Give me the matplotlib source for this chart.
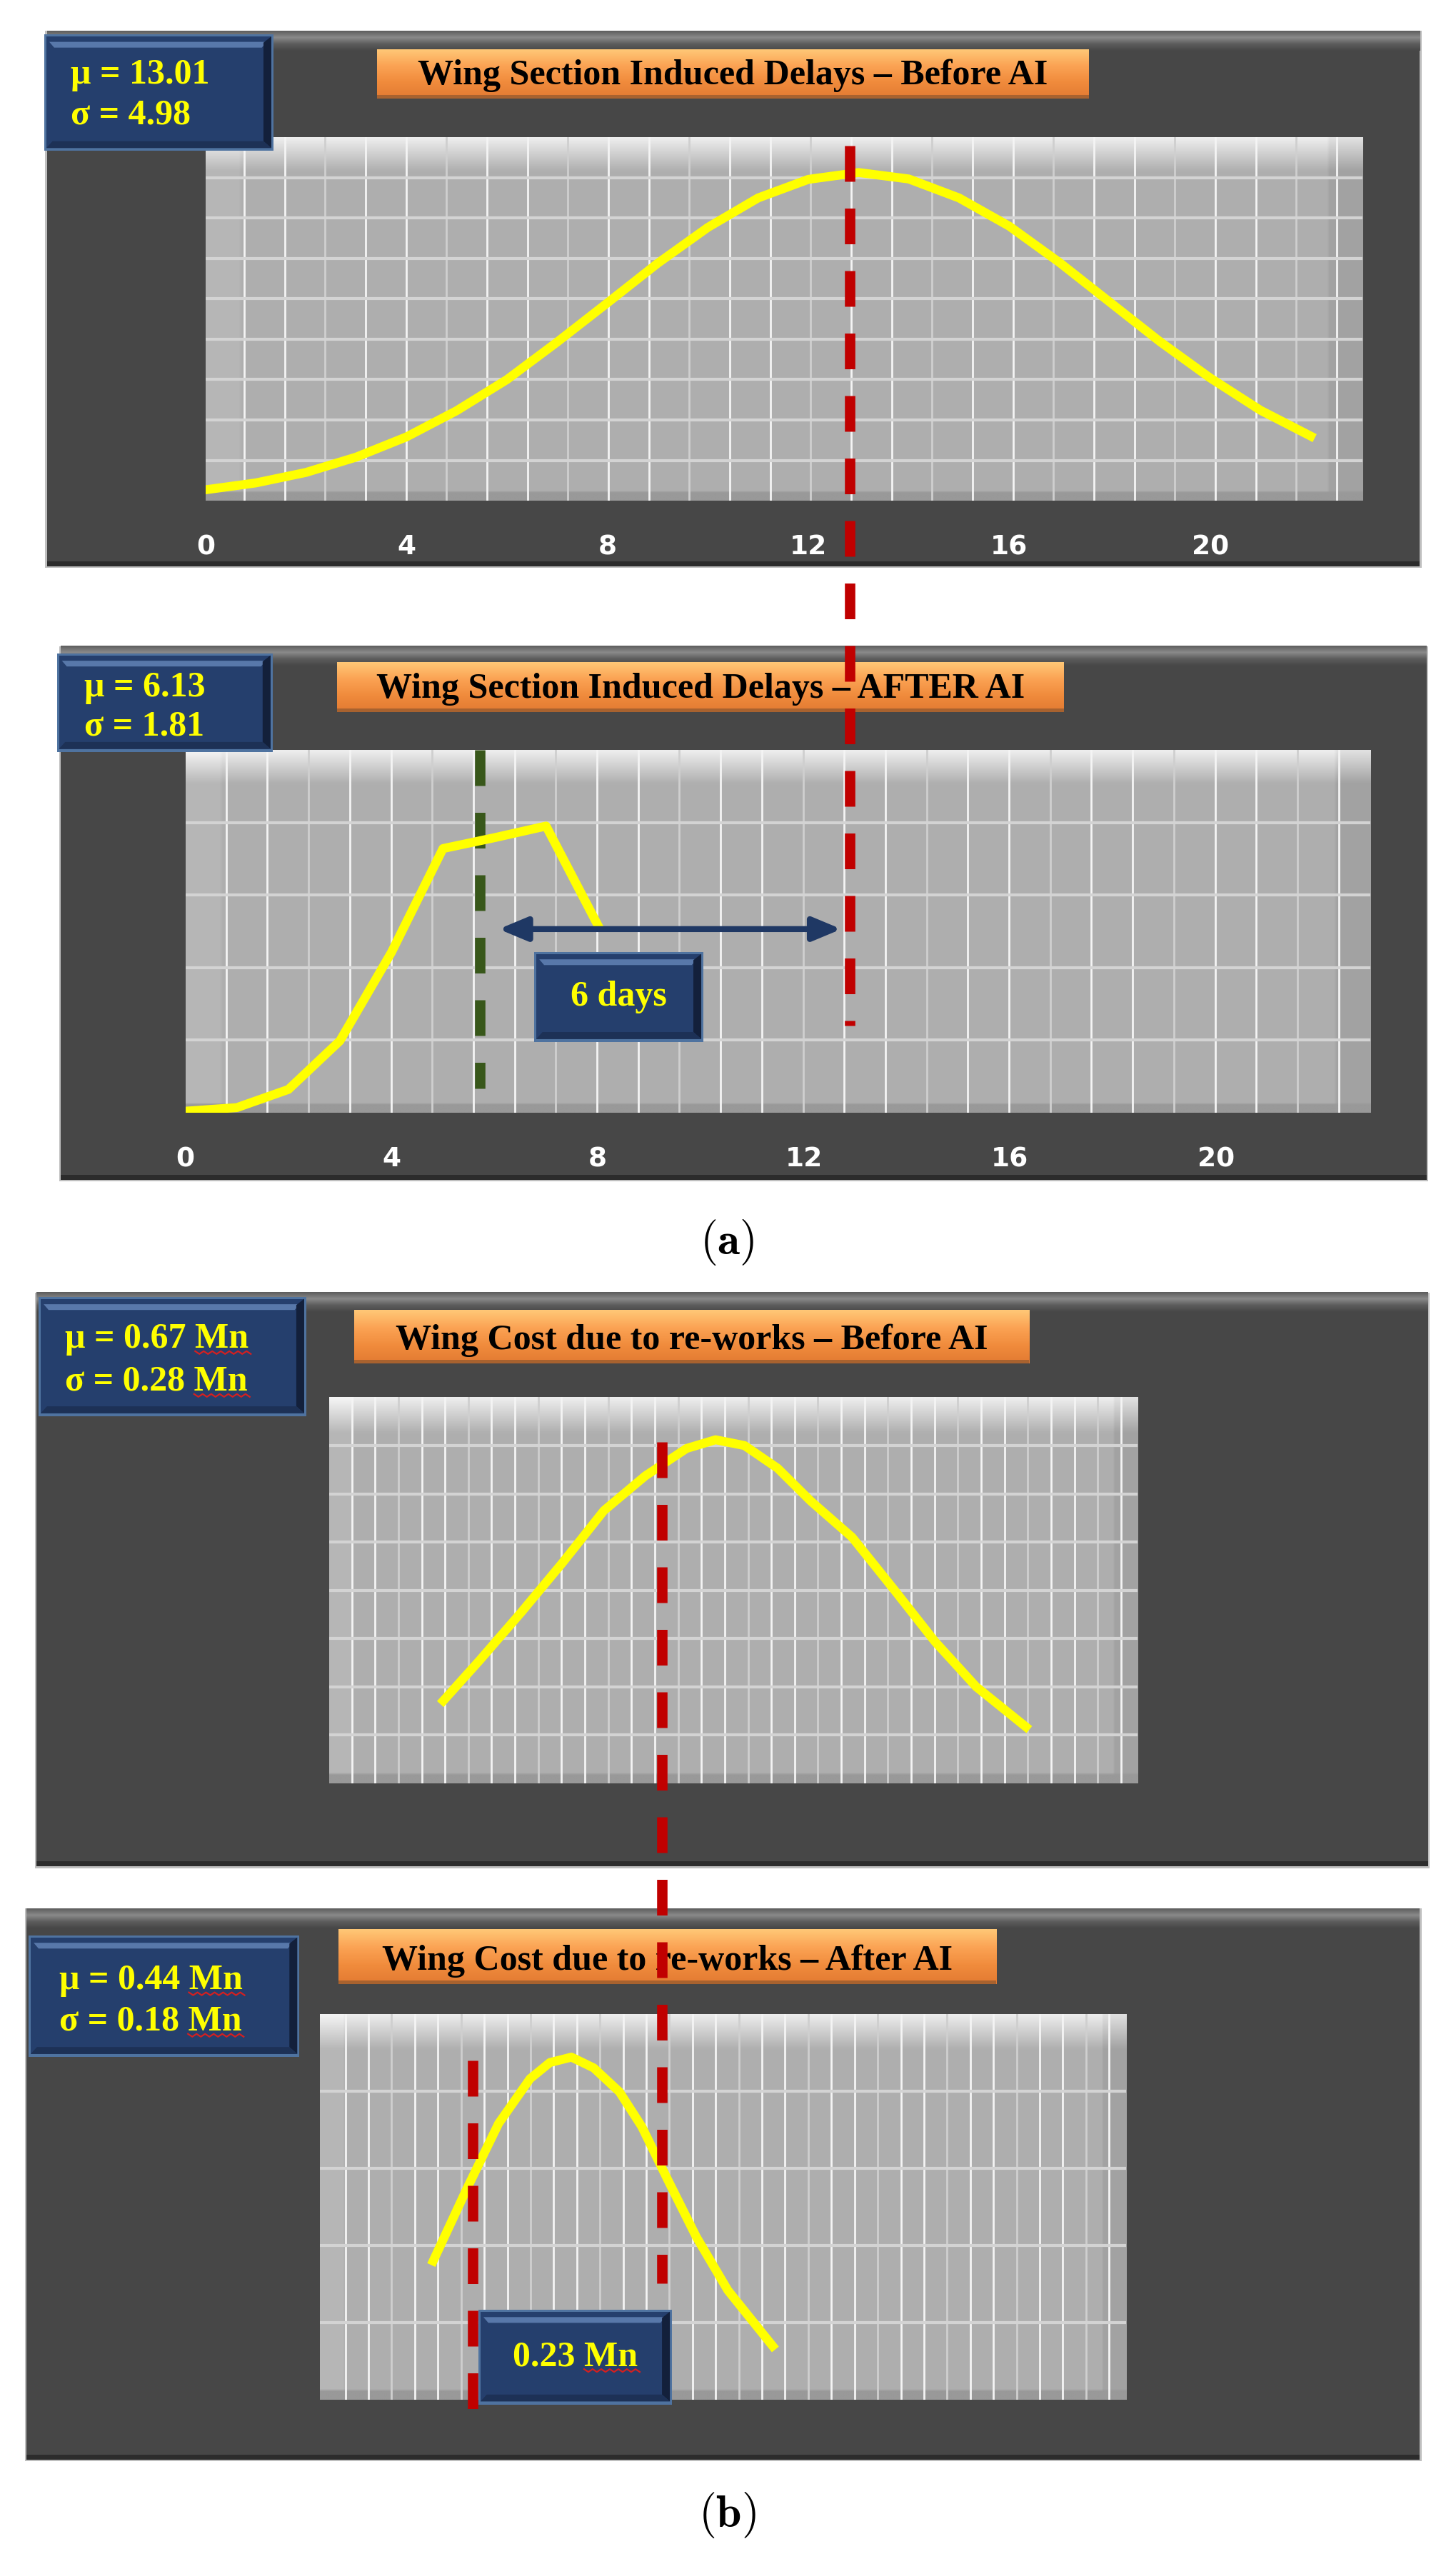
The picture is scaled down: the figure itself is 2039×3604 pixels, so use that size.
import numpy as np
import matplotlib
matplotlib.use("Agg")
import matplotlib.pyplot as plt
from matplotlib.patches import Rectangle, Polygon
from matplotlib.lines import Line2D
from matplotlib.colors import LinearSegmentedColormap
from matplotlib.transforms import blended_transform_factory, IdentityTransform

plt.rcParams["mathtext.fontset"] = "cm"
plt.rcParams["lines.scale_dashes"] = False

# ---- values ----
# (a) wing section induced delays, x in days, curve height in grid units
days_before = list(range(23))
delay_before = [0.27, 0.44, 0.70, 1.08, 1.58, 2.23, 3.00, 3.93, 4.90, 5.88, 6.77, 7.50,
                7.96, 8.13, 7.97, 7.50, 6.80, 5.90, 4.92, 3.94, 3.04, 2.24, 1.60]
days_after = list(range(9))
delay_after = [0.02, 0.07, 0.32, 0.99, 2.21, 3.64, 3.79, 3.95, 2.59]
day_ticks = [0, 4, 8, 12, 16, 20]
red_mark_days = 12.82
green_mark_days = 5.72
gap_days = [6.08, 12.73]
gap_level = 2.53

# (b) wing cost due to re-works, x in Mn
cost_before = [0.406, 0.45, 0.50, 0.55, 0.60, 0.65, 0.70, 0.735, 0.77, 0.81, 0.85,
               0.90, 0.95, 1.00, 1.05, 1.11]
cost_before_h = [1.71, 2.55, 3.54, 4.57, 5.65, 6.37, 6.94, 7.12, 7.00, 6.53, 5.85,
                 5.10, 4.03, 2.94, 2.00, 1.17]
cost_after = [0.392, 0.432, 0.471, 0.509, 0.533, 0.559, 0.586, 0.617, 0.644, 0.675,
              0.71, 0.748, 0.802]
cost_after_h = [1.80, 2.72, 3.58, 4.16, 4.37, 4.44, 4.30, 3.99, 3.54, 2.86, 2.11,
                1.42, 0.70]
cost_mean_before = 0.67
cost_mean_after = 0.44

titles = ["Wing Section Induced Delays \u2013 Before AI",
          "Wing Section Induced Delays \u2013 AFTER AI",
          "Wing Cost due to re-works \u2013 Before AI",
          "Wing Cost due to re-works \u2013 After AI"]
stats = [("\u03bc = 13.01", "\u03c3 = 4.98"),
         ("\u03bc = 6.13", "\u03c3 = 1.81"),
         ("\u03bc = 0.67 Mn", "\u03c3 = 0.28 Mn"),
         ("\u03bc = 0.44 Mn", "\u03c3 = 0.18 Mn")]
gap_labels = ["6 days", "0.23 Mn"]

# ---- layout (in units of the 887 x 1568 page) ----
W, H = 887.0, 1568.0
fig = plt.figure(figsize=(20.39, 36.04), dpi=100, facecolor="white")

frames = [(27.5, 18.9, 866, 346), (36, 393.7, 870, 719.7),
          (21.4, 787.4, 871, 1138), (15.3, 1162.7, 866, 1499.4)]
plots = [(125.2, 83.7, 830, 305), (112.9, 456.8, 835, 677.8),
         (200.5, 851.2, 693, 1086.3), (194.8, 1226.8, 686, 1462)]
stat_boxes = [(27, 21, 166.5, 92), (34.7, 398, 166, 458),
              (23.6, 790, 186.5, 862.7), (17.5, 1179, 182.3, 1253)]
stat_text = [(43, 50.9, 75.3), (51.3, 424, 448), (39.7, 820.9, 847), (36, 1211.5, 1236.8)]
title_boxes = [(229.7, 30.5, 663.4, 60.2), (205.3, 403.5, 648, 433.6),
               (215.6, 798.3, 627, 830.5), (206, 1175.3, 607, 1208.5)]

SERIF = "Liberation Serif"
YELLOW = "#ffff00"
RED = "#c00000"
DASH = (0, (36, 27))


def full_axes(z):
    ax = fig.add_axes([0, 0, 1, 1], zorder=z)
    ax.set_xlim(0, W)
    ax.set_ylim(H, 0)
    ax.axis("off")
    return ax


bg = full_axes(0)
top = full_axes(5)


def grad(ax, x0, y0, x1, y1, cols, z):
    cm = LinearSegmentedColormap.from_list("g", cols)
    ax.imshow(np.linspace(0, 1, 256).reshape(-1, 1), cmap=cm, extent=(x0, x1, y1, y0),
              aspect="auto", interpolation="bilinear", zorder=z)


def frame(x0, y0, x1, y1):
    bg.add_patch(Rectangle((x0, y0), x1 - x0, y1 - y0, fc="#bfbfbf", ec="none", zorder=1))
    bg.add_patch(Rectangle((x0 + 1, y0), x1 - x0 - 2, y1 - y0 - 1, fc="#474747", ec="none", zorder=2))
    grad(bg, x0 + 1, y0, x1 - 1, y0 + 12, ["#5c5c5c", "#8a8a8a", "#5c5c5c", "#474747"], 3)
    bg.add_patch(Rectangle((x0 + 1, y1 - 4), x1 - x0 - 2, 3, fc="#2c2c2c", ec="none", zorder=4))


def navy_box(x0, y0, x1, y1):
    top.add_patch(Rectangle((x0, y0), x1 - x0, y1 - y0, fc="#4f73a0", ec="none", zorder=1))
    top.add_patch(Rectangle((x0 + 1.2, y0 + 1.2), x1 - x0 - 2.4, y1 - y0 - 3, fc="#253f6d", ec="none", zorder=2))
    top.add_patch(Polygon([(x0 + 3, y0 + 4.5), (x1 - 4, y0 + 4.5), (x1 - 7, y0 + 8), (x0 + 6, y0 + 8)],
                          fc="#5878aa", ec="none", zorder=3))
    top.add_patch(Polygon([(x1 - 1.2, y0 + 1.2), (x1 - 1.2, y1 - 1.8), (x1 - 6, y1 - 6), (x1 - 6, y0 + 5)],
                          fc="#13203b", ec="none", zorder=3))
    top.add_patch(Polygon([(x0 + 1.2, y1 - 1.8), (x1 - 1.2, y1 - 1.8), (x1 - 6, y1 - 6), (x0 + 5, y1 - 6)],
                          fc="#1d3156", ec="none", zorder=3))


def orange_box(x0, y0, x1, y1):
    grad(top, x0, y0, x1, y1, ["#ffc877", "#fba354", "#f08b3c", "#e27a32"], 2)
    top.add_patch(Rectangle((x0, y1 - 2.2), x1 - x0, 2.2, fc="#a8622f", ec="none", zorder=3))


def plot_axes(rect, xlim, ylim, nh, g, off):
    x0, y0, x1, y1 = rect
    ax = fig.add_axes([x0 / W, 1 - y1 / H, (x1 - x0) / W, (y1 - y0) / H], zorder=1)
    ny, nx = 160, 400
    fy = np.linspace(0, 1, ny)[:, None]
    fx = np.linspace(0, 1, nx)[None, :]
    v = np.full((ny, nx), 0.686)
    v = np.where(fy < 0.09, 0.93 - (0.93 - 0.686) * (fy / 0.09), v)
    v = np.where(fx < 0.03, v + 0.03, v)
    v = np.where(fx > 0.972, v - 0.05, v)
    v = np.where(fy > 0.975, 0.60, v)
    img = np.dstack([v, v, v]).clip(0, 1)
    ax.imshow(img, extent=(0, 1, 0, 1), transform=ax.transAxes, aspect="auto",
              interpolation="bilinear", zorder=0)
    w = x1 - x0
    for k, p in enumerate(np.arange(off, w, g) / w):
        if p > 0.985:
            continue
        col = "#cfcfcf" if k % 3 == 2 else "#f4f4f4"
        ax.plot([p, p], [0, 1], transform=ax.transAxes, color=col, lw=2, zorder=1)
    for k in range(1, nh):
        ax.plot([0, 1], [k / nh, k / nh], transform=ax.transAxes, color="#d3d3d3", lw=3, zorder=1)
    ax.set_xlim(*xlim)
    ax.set_ylim(*ylim)
    for s in ax.spines.values():
        s.set_visible(False)
    ax.set_xticks([])
    ax.set_yticks([])
    return ax


for f in frames:
    frame(*f)

axA1 = plot_axes(plots[0], (0, 23.03), (0, 9), 9, 24.65, 23.6)
axA2 = plot_axes(plots[1], (0, 23.0), (0, 5), 5, 25.1, 24.9)
axB1 = plot_axes(plots[2], (0.268, 1.245), (0, 8), 8, 14.2, 13.8)
axB2 = plot_axes(plots[3], (0.255, 1.229), (0, 5), 5, 14.1, 15.6)

for ax in (axA1, axA2):
    ax.set_xticks(day_ticks)
    ax.set_xticklabels([str(t) for t in day_ticks], color="white", fontsize=27,
                       fontweight="bold", fontfamily="DejaVu Sans")
    ax.tick_params(axis="x", length=0, pad=34)

curve_kw = dict(color=YELLOW, lw=9, zorder=3, solid_joinstyle="round")
axA1.plot(days_before, delay_before, **curve_kw)
axA2.plot(days_after, delay_after, **curve_kw)
axB1.plot(cost_before, cost_before_h, **curve_kw)
axB2.plot(cost_after, cost_after_h, **curve_kw)

axA2.plot([green_mark_days, green_mark_days], [5.0, 0.33], color="#38571a", lw=10.5,
          linestyle=DASH, zorder=2)
axA2.annotate("", xy=(gap_days[1], gap_level), xytext=(gap_days[0], gap_level),
              arrowprops=dict(arrowstyle="<|-|>,head_length=0.6,head_width=0.25",
                              mutation_scale=40, lw=6, color="#1f3864",
                              shrinkA=0, shrinkB=0), zorder=4)


def dashed_link(ax, x, ytop, ybot):
    tr = blended_transform_factory(ax.transData, fig.transFigure)
    fig.add_artist(Line2D([x, x], [1 - ytop / H, 1 - ybot / H], transform=tr, color=RED,
                          lw=10.5, linestyle=DASH, zorder=6))


dashed_link(axA1, red_mark_days, 88.7, 624.7)
dashed_link(axB1, cost_mean_before, 878.3, 1391)
dashed_link(axB2, cost_mean_after, 1255, 1480)

# boxes and texts
squiggle_texts = []
for i in range(4):
    navy_box(*stat_boxes[i])
    tx, yb1, yb2 = stat_text[i]
    for s, yb in zip(stats[i], (yb1, yb2)):
        t = top.text(tx, yb, s, ha="left", va="baseline", fontsize=36, fontweight="bold",
                     family=SERIF, color=YELLOW, zorder=10)
        if s.endswith("Mn"):
            squiggle_texts.append(t)
    x0, y0, x1, y1 = title_boxes[i]
    orange_box(x0, y0, x1, y1)
    top.text((x0 + x1) / 2, y1 - 8.7, titles[i], ha="center", va="baseline", fontsize=36,
             fontweight="bold", family=SERIF, color="black", zorder=10)

navy_box(325.5, 579.9, 428.4, 634.7)
top.text(377, 607.3, gap_labels[0], ha="center", va="center", fontsize=36, fontweight="bold",
         family=SERIF, color=YELLOW, zorder=10)
navy_box(291.5, 1407, 409.3, 1464.7)
t = top.text(350.4, 1441, gap_labels[1], ha="center", va="baseline", fontsize=36,
             fontweight="bold", family=SERIF, color=YELLOW, zorder=10)
squiggle_texts.append(t)

bg.text(443, 757, r"$(\mathbf{a})$", fontsize=46, ha="center", va="center", color="black")
bg.text(443, 1532, r"$(\mathbf{b})$", fontsize=46, ha="center", va="center", color="black")

for ax in (bg, top):
    ax.set_xlim(0, W)
    ax.set_ylim(H, 0)

# red spell-check underline below "Mn"
fig.canvas.draw()
r = fig.canvas.get_renderer()
for t in squiggle_texts:
    bb = t.get_window_extent(r)
    wmn, _, _ = r.get_text_width_height_descent("Mn", t.get_fontproperties(), ismath=False)
    base = top.transData.transform(t.get_position())[1]
    xs = np.arange(bb.x1 - wmn, bb.x1 + 6, 6.0)
    ys = [base - 5 - 4 * (k % 2) for k in range(len(xs))]
    fig.add_artist(Line2D(xs, ys, transform=IdentityTransform(), color="#d42020", lw=1.6, zorder=10))

fig.savefig("out.png", dpi=100, facecolor="white")
